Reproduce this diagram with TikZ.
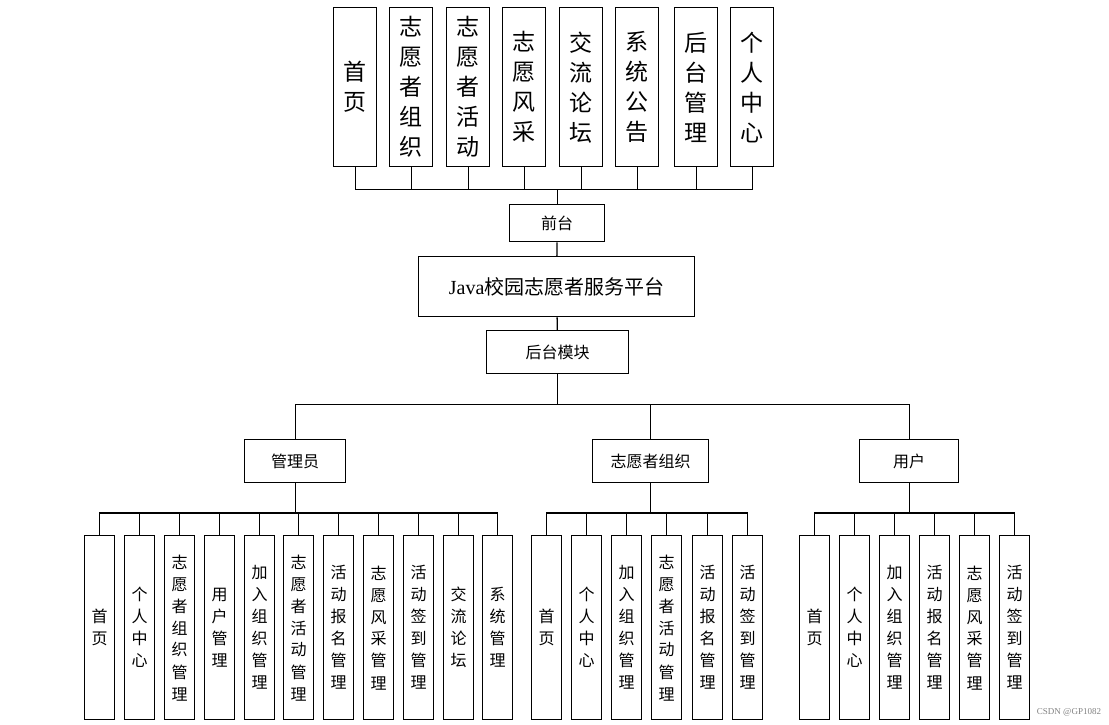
\documentclass[tikz,border=0pt]{standalone}
\usepackage{fontspec}
\setmainfont{Liberation Serif}
\newfontfamily\cjk{Noto Sans CJK SC}
\begin{document}
\begin{tikzpicture}[x=1pt,y=-1pt,line width=1.3pt,
  bx/.style={draw,inner sep=0pt,anchor=north west,font=\cjk},
  topv/.style={bx,minimum width=43pt,minimum height=159pt,align=center,font=\cjk\fontsize{23}{30}\selectfont},
  botv/.style={bx,minimum width=30pt,minimum height=184pt,align=center,font=\cjk\fontsize{16}{22}\selectfont}]
\useasboundingbox (0,0) rectangle (1109,725);
% top
\foreach \x/\t [count=\i] in {333/首\\页,389/志\\愿\\者\\组\\织,446/志\\愿\\者\\活\\动,502/志\\愿\\风\\采,559/交\\流\\论\\坛,615/系\\统\\公\\告,674/后\\台\\管\\理,730/个\\人\\中\\心}
  \node[topv] (t\i) at (\x,7) {\t};
\node[bx,minimum width=95pt,minimum height=37pt,font=\cjk\fontsize{16}{20}\selectfont] (front) at (509,204) {前台};
\node[bx,minimum width=276pt,minimum height=60pt,font=\fontsize{20}{24}\selectfont] (main) at (418,256) {Java{\cjk 校园志愿者服务平台}};
\node[bx,minimum width=142pt,minimum height=43pt,font=\cjk\fontsize{16}{20}\selectfont] (back) at (486,330) {后台模块};
\node[bx,minimum width=101pt,minimum height=43pt,font=\cjk\fontsize{16}{20}\selectfont] (admin) at (244,439) {管理员};
\node[bx,minimum width=116pt,minimum height=43pt,font=\cjk\fontsize{16}{20}\selectfont] (org) at (592,439) {志愿者组织};
\node[bx,minimum width=99pt,minimum height=43pt,font=\cjk\fontsize{16}{20}\selectfont] (user) at (859,439) {用户};
\foreach \i in {1,...,8} \draw (t\i.south) -- ++(0,22) -| (front.north);
\draw (front) -- (main) -- (back);
\foreach \n in {admin,org,user} \draw (back.south) -- ++(0,30) -| (\n.north);
% bottom admin
\foreach \x/\t [count=\i] in {84/首\\页,124/个\\人\\中\\心,164/志\\愿\\者\\组\\织\\管\\理,204/用\\户\\管\\理,244/加\\入\\组\\织\\管\\理,283/志\\愿\\者\\活\\动\\管\\理,323/活\\动\\报\\名\\管\\理,363/志\\愿\\风\\采\\管\\理,403/活\\动\\签\\到\\管\\理,443/交\\流\\论\\坛,482/系\\统\\管\\理}
  {\node[botv] (a\i) at (\x,535) {\t};
   \draw (a\i.north) -- ++(0,-22) -| (admin.south);}
\foreach \x/\t [count=\i] in {531/首\\页,571/个\\人\\中\\心,611/加\\入\\组\\织\\管\\理,651/志\\愿\\者\\活\\动\\管\\理,692/活\\动\\报\\名\\管\\理,732/活\\动\\签\\到\\管\\理}
  {\node[botv] (o\i) at (\x,535) {\t};
   \draw (o\i.north) -- ++(0,-22) -| (org.south);}
\foreach \x/\t [count=\i] in {799/首\\页,839/个\\人\\中\\心,879/加\\入\\组\\织\\管\\理,919/活\\动\\报\\名\\管\\理,959/志\\愿\\风\\采\\管\\理,999/活\\动\\签\\到\\管\\理}
  {\node[botv] (u\i) at (\x,535) {\t};
   \draw (u\i.north) -- ++(0,-22) -| (user.south);}
\node[anchor=south east,font=\fontsize{9}{10}\selectfont,text=gray] (wm) at (1105,720) {CSDN @GP1082};
\end{tikzpicture}
\end{document}
